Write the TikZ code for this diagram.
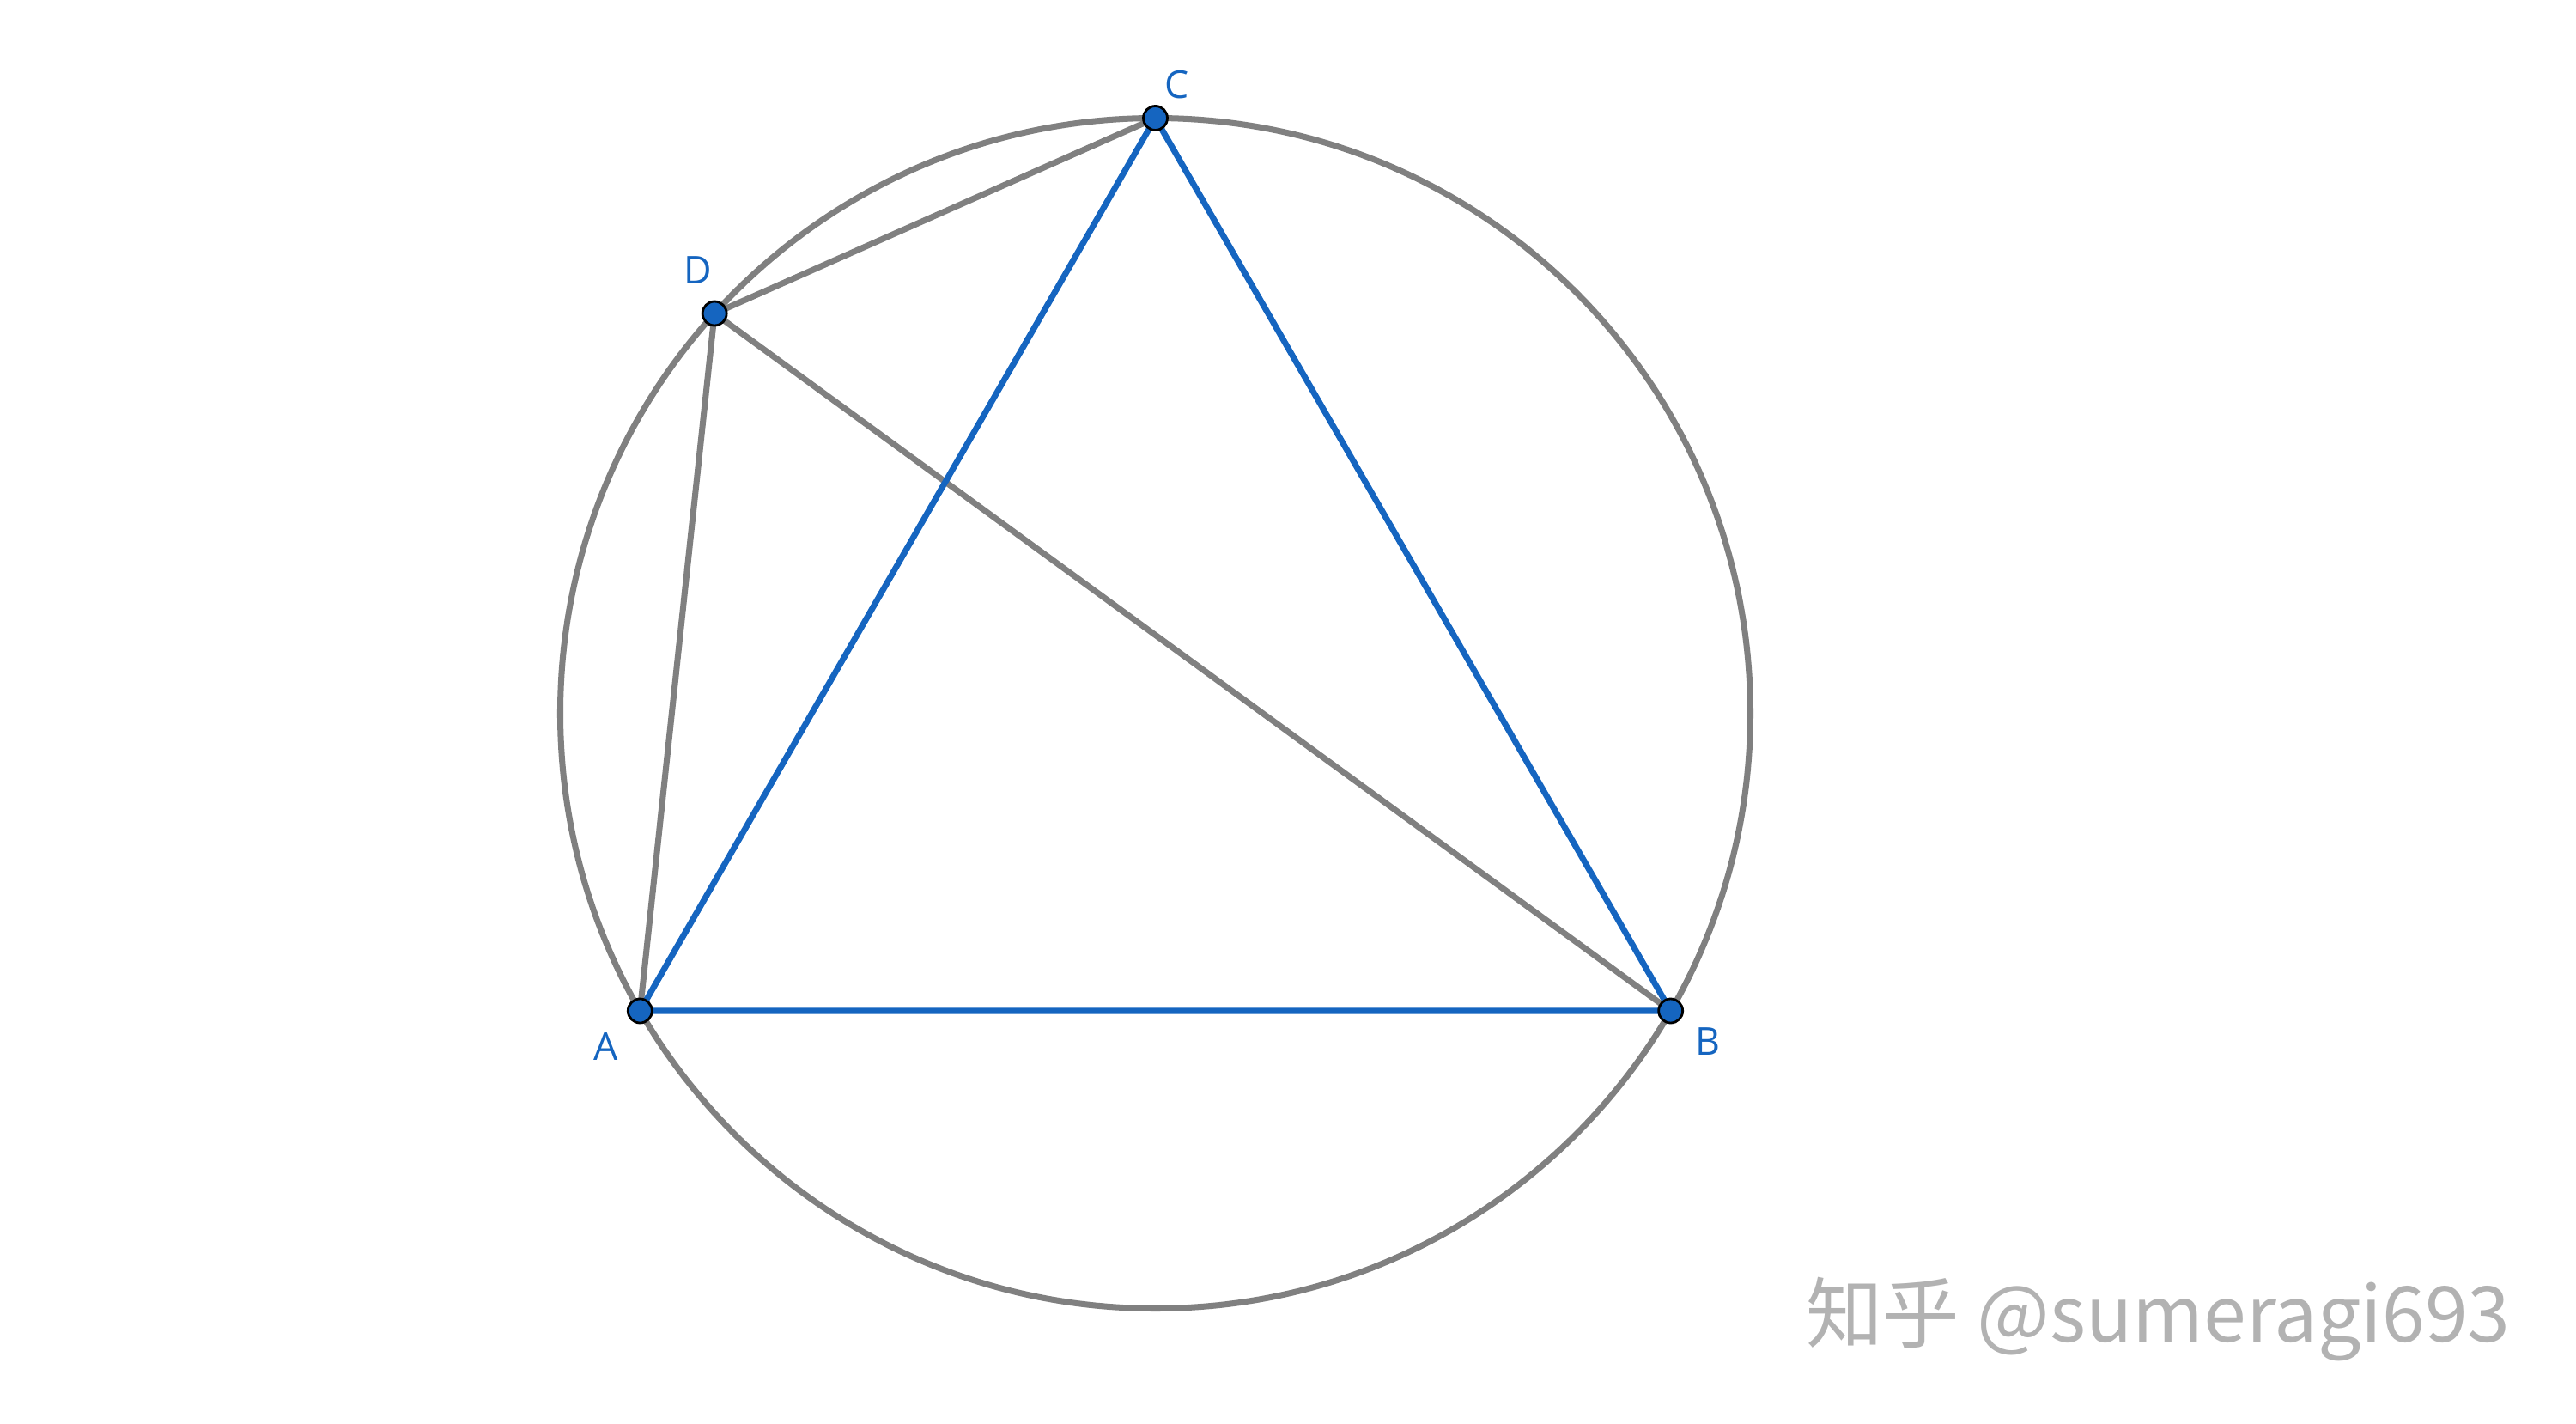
\documentclass[tikz,border=0pt]{standalone}
\usepackage{fontspec}
\setmainfont{Open Sans}
\newfontfamily\cjk{Noto Sans CJK SC}
\usetikzlibrary{positioning}

\definecolor{ggblue}{RGB}{21,101,192}
\definecolor{gggray}{RGB}{128,128,128}

\tikzset{
  grayline/.style={draw=gggray, line width=2pt},
  blueline/.style={draw=ggblue, line width=2pt},
  pt/.style={circle, fill=ggblue, draw=black, line width=0.8pt, inner sep=0pt, minimum size=0.28cm},
  lbl/.style={text=ggblue, font=\fontsize{12.7}{15}\selectfont, inner sep=0pt}
}

\begin{document}
\begin{tikzpicture}[x=1cm,y=1cm]
    % frame of the picture
    \useasboundingbox (-13.455,-8.265) rectangle (16.545,8.305);

    % Circumcircle
    \draw[grayline] (0,0) circle (6.93);

    % Points on the circle
    \coordinate (A) at (210:6.93);
    \coordinate (B) at (330:6.93);
    \coordinate (C) at (90:6.93);
    \coordinate (D) at (137.8:6.93);

    % Chords through D
    \draw[grayline] (A) -- (D) -- (C);
    \draw[grayline] (D) -- (B);

    % Triangle ABC
    \draw[blueline] (A) -- (B) -- (C) -- cycle;

    % Point markers and their labels
    \foreach \p/\dx/\dy in {A/-0.40/-0.41, B/0.43/-0.36, C/0.25/0.39, D/-0.19/0.50} {
      \node[pt] (pt\p) at (\p) {};
      \node[lbl] (lab\p) at ([shift={(\dx,\dy)}]\p) {\p};
    }

    % Watermark
    \node[anchor=base west, inner sep=0pt, text=gray!60,
          font=\cjk\fontsize{25.5}{30}\selectfont] (mark) at (7.57,-7.32) {知乎 @sumeragi693};
\end{tikzpicture}
\end{document}
